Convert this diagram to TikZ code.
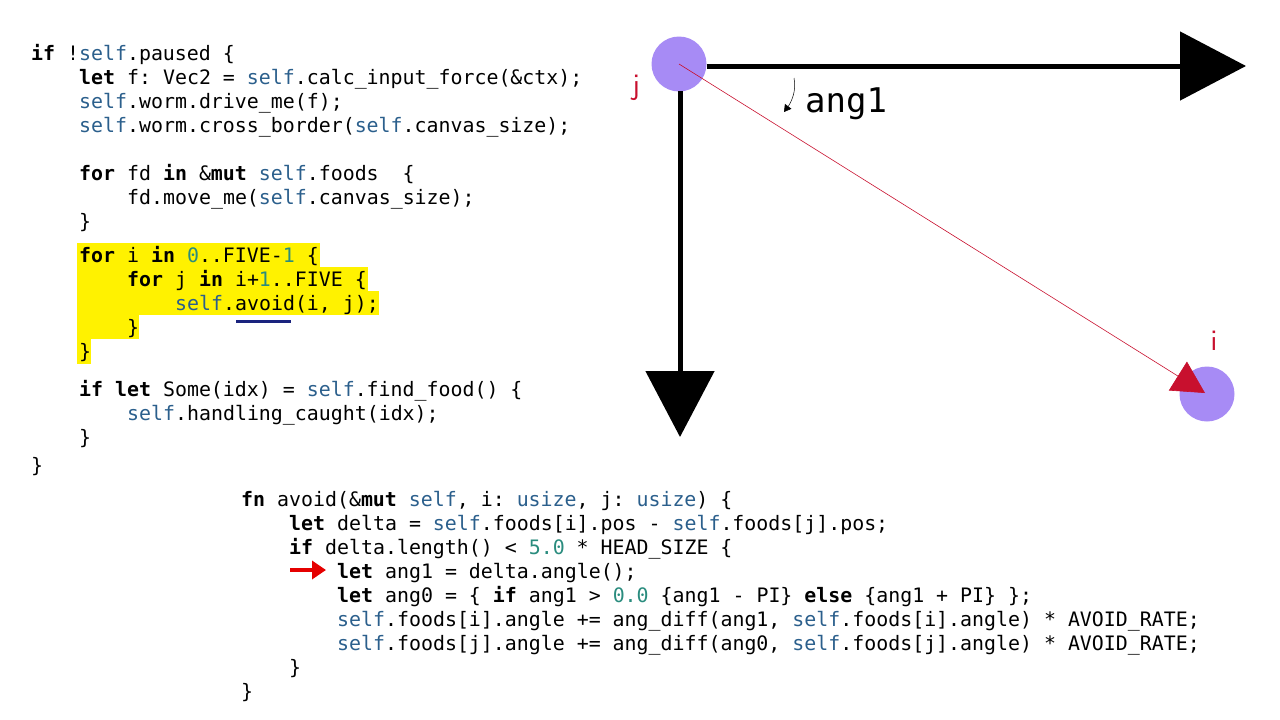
\documentclass[tikz,border=0pt]{standalone}
\usepackage{fontspec}
\setmonofont{DejaVu Sans Mono}
\usetikzlibrary{arrows.meta}
\definecolor{selfc}{HTML}{2B5F8C}
\definecolor{numc}{HTML}{2A8C7E}
\definecolor{dotc}{HTML}{A78BF5}
\definecolor{redc}{HTML}{C8102E}
\definecolor{navy}{HTML}{1A237E}
\newcommand{\kw}[1]{\textbf{#1}}
\newcommand{\slf}{\textcolor{selfc}{self}}
\newcommand{\nm}[1]{\textcolor{numc}{#1}}
\newcommand{\us}{\textcolor{selfc}{usize}}
\tikzset{code/.style={anchor=base west,inner sep=0pt,font=\ttfamily\fontsize{19.9}{24}\selectfont}}
\begin{document}
\begin{tikzpicture}[x=1pt,y=-1pt]
\useasboundingbox (0,0) rectangle (1280,720);
\fill[yellow] (77,243) rectangle (320,267);
\fill[yellow] (77,267) rectangle (368,291);
\fill[yellow] (77,291) rectangle (379,315);
\fill[yellow] (77,315) rectangle (139,339);
\fill[yellow] (77,339) rectangle (91,364);
\draw[draw=navy,line width=3pt] (236,321) -- (291,321);
% upper code
\node[code] (c1) at (31,60) {\kw{if} !\slf.paused \{};
\node[code] (c2) at (79,84) {\kw{let} f: Vec2 = \slf.calc\_input\_force(\&ctx);};
\node[code] (c3) at (79,108) {\slf.worm.drive\_me(f);};
\node[code] (c4) at (79,132) {\slf.worm.cross\_border(\slf.canvas\_size);};
\node[code] (c5) at (79,180) {\kw{for} fd \kw{in} \&\kw{mut} \slf.foods\ \ \{};
\node[code] (c6) at (127,204) {fd.move\_me(\slf.canvas\_size);};
\node[code] (c7) at (79,228) {\}};
\node[code] (c8) at (79,262) {\kw{for} i \kw{in} \nm{0}..FIVE-\nm{1} \{};
\node[code] (c9) at (127,286) {\kw{for} j \kw{in} i+\nm{1}..FIVE \{};
\node[code] (c10) at (175,310) {\slf.avoid(i, j);};
\node[code] (c11) at (127,334) {\}};
\node[code] (c12) at (79,358) {\}};
\node[code] (c13) at (79,396) {\kw{if} \kw{let} Some(idx) = \slf.find\_food() \{};
\node[code] (c14) at (127,420) {\slf.handling\_caught(idx);};
\node[code] (c15) at (79,444) {\}};
\node[code] (c16) at (31,472) {\}};
% lower code
\node[code] (d1) at (241,506) {\kw{fn} avoid(\&\kw{mut} \slf, i: \us, j: \us) \{};
\node[code] (d2) at (289,530) {\kw{let} delta = \slf.foods[i].pos - \slf.foods[j].pos;};
\node[code] (d3) at (289,554) {\kw{if} delta.length() < \nm{5.0} * HEAD\_SIZE \{};
\node[code] (d4) at (337,578) {\kw{let} ang1 = delta.angle();};
\node[code] (d5) at (337,602) {\kw{let} ang0 = \{ \kw{if} ang1 > \nm{0.0} \{ang1 - PI\} \kw{else} \{ang1 + PI\} \};};
\node[code] (d6) at (337,626) {\slf.foods[i].angle += ang\_diff(ang1, \slf.foods[i].angle) * AVOID\_RATE;};
\node[code] (d7) at (337,650) {\slf.foods[j].angle += ang\_diff(ang0, \slf.foods[j].angle) * AVOID\_RATE;};
\node[code] (d8) at (289,674) {\}};
\node[code] (d9) at (241,698) {\}};
\coordinate (ra) at (290,570);
\coordinate (rb) at (326,570);
\draw[red!90!black,line width=4pt,-{Triangle[length=14pt,width=18pt]}] (ra) -- (rb);
% diagram
\node[circle,fill=dotc,minimum size=55pt,inner sep=0pt] (j) at (679,64) {};
\node[circle,fill=dotc,minimum size=55pt,inner sep=0pt] (i) at (1207,394) {};
\coordinate (hx) at (1246,66);
\coordinate (vy) at (680,437);
\draw[line width=5pt,-{Triangle[length=66pt,width=68pt]}] (j.east |- 0,66) -- (hx);
\draw[line width=5pt,-{Triangle[length=66pt,width=68pt]}] (680,91) -- (vy);
\draw[redc,line width=0.6pt,-{Triangle[length=32pt,width=34pt]}] (j.center) -- (1205,393);
\node[text=redc,font=\sffamily\fontsize{30}{30}\selectfont] (lj) at (636,88) {j};
\node[text=redc,font=\sffamily\fontsize{30}{30}\selectfont] (li) at (1214,341) {i};
\node[font=\ttfamily\fontsize{34}{34}\selectfont,anchor=west,inner sep=0pt] (ang) at (805,104) {ang1};
\coordinate (ca) at (794,78);
\coordinate (cb) at (784,112);
\draw[line width=0.5pt,-{Triangle[length=7pt,width=8pt]}] (ca) .. controls (797,92) and (790,104) .. (cb);
\end{tikzpicture}
\end{document}
